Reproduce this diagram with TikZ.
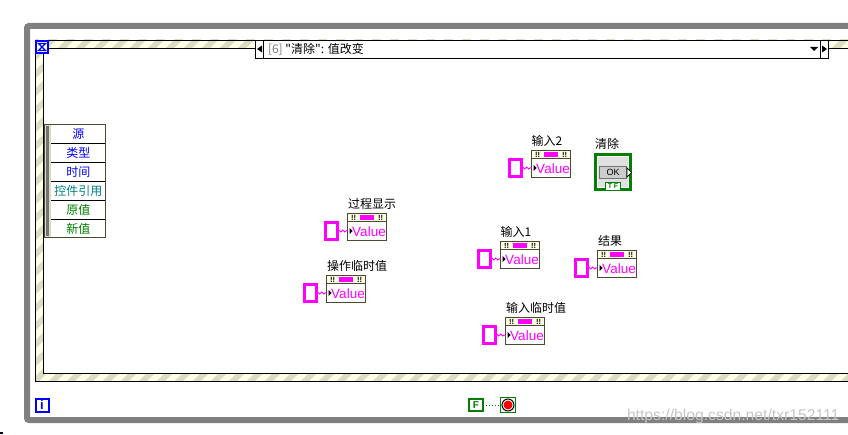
\documentclass[tikz,border=0pt]{standalone}
\usepackage{fontspec}
\setmainfont{Liberation Sans}
\newfontfamily\cjk{Noto Sans CJK SC}
\usetikzlibrary{decorations.pathmorphing}
\definecolor{framegray}{HTML}{808080}
\definecolor{stripeyellow}{HTML}{FFFFE5}
\definecolor{stripetan}{HTML}{DCDCC4}
\definecolor{vimagenta}{HTML}{FF00FF}
\definecolor{vigreen}{HTML}{007F00}
\definecolor{viblue}{HTML}{0000FF}
\definecolor{viteal}{HTML}{008080}
\definecolor{violive}{HTML}{4A4A32}
\tikzset{
  every node/.style={outer sep=0pt},
  cell/.style={draw=black,fill=white,inner sep=0pt,anchor=north west,font=\fontsize{12}{12}\selectfont\cjk},
  varlabel/.style={inner sep=0pt,font=\fontsize{12}{12}\selectfont\cjk},
  varbox/.style={draw=violive,fill=white,minimum width=39pt,minimum height=27pt,inner sep=0pt,anchor=north west},
  varhead/.style={draw=violive,fill=stripeyellow,minimum width=39pt,minimum height=8pt,inner sep=0pt,anchor=north west},
  varbar/.style={fill=vimagenta,minimum width=14pt,minimum height=5pt,inner sep=0pt},
  varbang/.style={inner sep=0pt,font=\fontsize{7.5}{7.5}\selectfont\bfseries},
  varvalue/.style={inner sep=0pt,text=vimagenta,font=\fontsize{13.5}{13.5}\selectfont},
  varterm/.style={draw=vimagenta,line width=3pt,minimum width=12pt,minimum height=17pt,inner sep=0pt,anchor=north west},
  varwire/.style={vimagenta,decorate,decoration={snake,amplitude=1pt,segment length=4pt}},
  blueicon/.style={draw=viblue,line width=2pt,fill=white,minimum size=12pt,inner sep=0pt},
  greenicon/.style={draw=vigreen,line width=2pt,fill=white,inner sep=0pt},
}
\newcommand{\localvar}[6]{%
\node[varbox] (#1) at (#2,#3) {};
\node[varhead] (#1h) at (#1.north west) {};
\node[varbar] (#1b) at (#1h.center) {};
\node[varbang] (#1l) at ([shift={(6,4.5)}]#1.north west) {!!};
\node[varbang] (#1r) at ([shift={(33,4.5)}]#1.north west) {!!};
\node[varvalue] (#1v) at ([shift={(21.5,18)}]#1.north west) {Value};
\fill ([shift={(2,14.5)}]#1.north west) -- ([shift={(5,17.5)}]#1.north west) -- ([shift={(2,20.5)}]#1.north west) -- cycle;
\node[varterm] (#1t) at ([shift={(-22,9)}]#1.north west) {};
\draw[varwire] (#1t.east) -- (#1t.east -| #1.west);
\node[varlabel] (#1n) at (#4,#5) {#6};
}
\begin{document}
\begin{tikzpicture}[x=1pt,y=-1pt,line width=1pt]
\path[use as bounding box,clip] (0,0) rectangle (848,435);
\fill[white] (0,0) rectangle (848,435);
% frame
\draw[framegray,line width=6pt,rounded corners=2pt] (860,26) -- (27,26) -- (27,420) -- (860,420);
% event structure
\fill[stripeyellow] (35,40) rectangle (860,381);
\begin{scope}
\clip (35,40) rectangle (860,381);
\foreach \x in {-400,-382,...,900} {
\draw[stripetan,line width=6pt] (\x,420) -- (\x+420,0);
}
\end{scope}
\draw[black,fill=white] (43.5,48.5) rectangle (860,373.5);
\draw[black] (35.5,40.5) rectangle (860,381.5);
\node[blueicon] (hourglass) at (42,47) {};
\draw[viblue,line width=1.3pt] (38.5,43.5) -- (45.5,43.5) -- (38.5,50.5) -- (45.5,50.5) -- cycle;
\node[cell,minimum width=573pt,minimum height=18pt] (selector) at (255.5,40.5) {};
\node[cell,minimum width=8pt,minimum height=18pt] (prev) at (255.5,40.5) {};
\node[cell,minimum width=8.5pt,minimum height=18pt] (next) at (820,40.5) {};
\fill (257,49) -- (262,45.5) -- (262,52.5) -- cycle;
\fill (827,49) -- (822,45.5) -- (822,52.5) -- cycle;
\fill (810,47) -- (818,47) -- (814,51) -- cycle;
\node[varlabel,anchor=west] (event) at (268,49) {\textcolor{gray}{[6]} "清除": 值改变};
% event data
\node[draw=violive,fill=stripetan,minimum width=61pt,minimum height=113pt,inner sep=0pt,anchor=north west] (data) at (44.5,124.5) {};
\fill[gray!90!black] (46,126) rectangle (49,236);
\node[cell,draw=none,minimum width=54.5pt,minimum height=19pt,text=viblue] (d1) at (51,124.5) {源};
\node[cell,draw=none,minimum width=54.5pt,minimum height=19pt,text=viblue] (d2) at (51,143.5) {类型};
\node[cell,draw=none,minimum width=54.5pt,minimum height=19pt,text=viblue] (d3) at (51,162.5) {时间};
\node[cell,draw=none,minimum width=54.5pt,minimum height=19pt,text=viteal] (d4) at (51,181.5) {控件引用};
\node[cell,draw=none,minimum width=54.5pt,minimum height=19pt,text=vigreen] (d5) at (51,200.5) {原值};
\node[cell,draw=none,minimum width=54.5pt,minimum height=18pt,text=vigreen] (d6) at (51,219.5) {新值};
\draw (d1.south west) -- (d1.south east);
\draw (d2.south west) -- (d2.south east);
\draw (d3.south west) -- (d3.south east);
\draw (d4.south west) -- (d4.south east);
\draw (d5.south west) -- (d5.south east);
\draw[violive] (data.north west) rectangle (data.south east);
\draw[violive] (d1.north west) -- (d1.north east);
% local variables
\localvar{in2}{531.5}{150.5}{547}{141}{输入2}
\localvar{show}{347.5}{213.5}{372}{204}{过程显示}
\localvar{optemp}{326.5}{275.5}{357}{266}{操作临时值}
\localvar{in1}{500.5}{241.5}{516}{232}{输入1}
\localvar{result}{597.5}{250.5}{610}{241}{结果}
\localvar{intemp}{505.5}{317.5}{536}{308}{输入临时值}
% clear button
\node[varlabel] (clearn) at (607,144) {清除};
\node[draw=vigreen,line width=3pt,fill=white,minimum size=35pt,inner sep=0pt] (clear) at (613,172.5) {};
\fill[black!12] (598,157) rectangle (628,187);
\draw[black!55,fill=black!20,line width=1pt] (599.5,166.5) rectangle (626.5,178.5);
\node[inner sep=0pt,font=\fontsize{9}{9}\selectfont] (ok) at (613,172.5) {OK};
\draw[black,fill=white,line width=.7pt] (627,168) -- (631.5,172.5) -- (627,177) -- cycle;
\node[draw=vigreen,fill=white,line width=1pt,minimum width=15.5pt,minimum height=8pt,inner sep=0pt,text=vigreen,font=\fontsize{7}{7}\selectfont\bfseries] (tf) at (613,186.5) {T F};
% bottom row
\node[blueicon,minimum size=13pt] (iter) at (42,405) {};
\node[inner sep=0pt,text=viblue,font=\fontsize{13}{13}\selectfont\bfseries] (itext) at (42,405) {i};
\node[greenicon,minimum width=14pt,minimum height=12pt] (false) at (476,405) {};
\node[inner sep=0pt,text=vigreen,font=\fontsize{10}{10}\selectfont\bfseries] (ftext) at (476,405) {F};
\node[draw=vigreen,fill=white,minimum size=15pt,inner sep=0pt] (stop) at (508,405) {};
\draw[black,fill=white] (508,405) circle (6);
\fill[red] (508,405) circle (4.5);
\draw[vigreen,dotted] (false) -- (stop);
\fill[black!80!blue] (0,431.5) rectangle (3,434);
% watermark
\node[inner sep=0pt,anchor=west,text=black!22,font=\fontsize{15.7}{15.7}\selectfont] (mark) at (627,416) {https://blog.csdn.net/txr152111};
\end{tikzpicture}
\end{document}
